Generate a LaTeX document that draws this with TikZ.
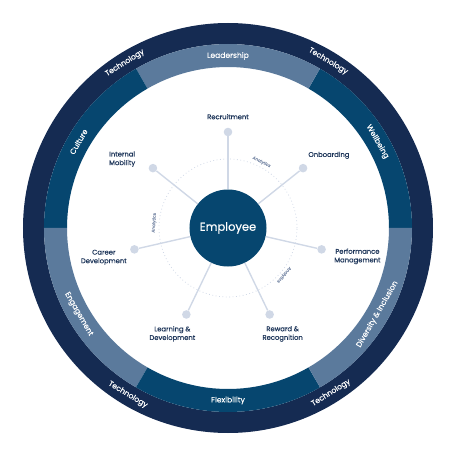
\documentclass[tikz,border=0pt]{standalone}
\usepackage{fontspec}
\setmainfont{Poppins}[FakeBold=0.35]
\usetikzlibrary{positioning}
\definecolor{ringnavy}{HTML}{152B52}
\definecolor{segdark}{HTML}{06466F}
\definecolor{seglight}{HTML}{5B7A9C}
\definecolor{spokegrey}{HTML}{D0D8E6}
\definecolor{labelnavy}{HTML}{1D3559}
\definecolor{analyticsgrey}{HTML}{8392AD}

\begin{document}
\begin{tikzpicture}[
        x=1pt, y=1pt,
        employee/.style={circle, fill=segdark, text=white, minimum size=77pt, inner sep=0pt, font=\fontsize{11.5}{13}\selectfont},
        spot/.style={circle, fill=spokegrey, minimum size=8.6pt, inner sep=0pt},
        topic/.style={align=center, text=labelnavy, inner sep=1pt, font=\fontsize{6.8}{8.6}\selectfont},
        ringtext/.style={text=white, inner sep=0pt, font=\fontsize{7.6}{9}\selectfont},
        analytics/.style={text=analyticsgrey, inner sep=0pt, font=\fontsize{4.3}{5}\selectfont},
        spoke/.style={draw=spokegrey, line width=1.4pt},
    ]
    \useasboundingbox (-228,-227) rectangle (227,228);

    % outer ring and the six segments
    \fill[ringnavy, even odd rule] (0,0) circle[radius=205pt] (0,0) circle[radius=184pt];
    \fill[segdark]  (0:184pt)    arc[start angle=0,    end angle=60,   radius=184pt] -- (60:161pt)   arc[start angle=60,   end angle=0,    radius=161pt] -- cycle;
    \fill[seglight] (60:184pt)   arc[start angle=60,   end angle=120,  radius=184pt] -- (120:161pt)  arc[start angle=120,  end angle=60,   radius=161pt] -- cycle;
    \fill[segdark]  (120:184pt)  arc[start angle=120,  end angle=180,  radius=184pt] -- (180:161pt)  arc[start angle=180,  end angle=120,  radius=161pt] -- cycle;
    \fill[seglight] (180:184pt)  arc[start angle=180,  end angle=240,  radius=184pt] -- (240:161pt)  arc[start angle=240,  end angle=180,  radius=161pt] -- cycle;
    \fill[segdark]  (240:184pt)  arc[start angle=240,  end angle=300,  radius=184pt] -- (300:161pt)  arc[start angle=300,  end angle=240,  radius=161pt] -- cycle;
    \fill[seglight] (300:184pt)  arc[start angle=300,  end angle=360,  radius=184pt] -- (360:161pt)  arc[start angle=360,  end angle=300,  radius=161pt] -- cycle;

    \node[ringtext]              (Lead)  at (90:172pt)    {Leadership};
    \node[ringtext, rotate=-60]  (Well)  at (30:172.5pt)  {Wellbeing};
    \node[ringtext, rotate=60]   (Div)   at (-30:172.5pt) {Diversity \& Inclusion};
    \node[ringtext]              (Flex)  at (-90:172.5pt) {Flexibility};
    \node[ringtext, rotate=-60]  (Eng)   at (210:172.5pt) {Engagement};
    \node[ringtext, rotate=60]   (Cult)  at (150:172.5pt) {Culture};

    \node[ringtext, rotate=32]   (T1)    at (122:194.5pt) {Technology};
    \node[ringtext, rotate=-31]  (T2)    at (59:194.5pt)  {Technology};
    \node[ringtext, rotate=32]   (T3)    at (302:194.5pt) {Technology};
    \node[ringtext, rotate=-31]  (T4)    at (239:194.5pt) {Technology};

    % dotted analytics circle
    \draw[spokegrey, line width=0.8pt, dash pattern=on 0.8pt off 2.6pt] (0,0) circle[radius=69pt];
    \node[analytics, rotate=-27]  (A1) at (63:74pt)   {Analytics};
    \node[analytics, rotate=86]   (A2) at (176:74pt)  {Analytics};
    \node[analytics, rotate=-130] (A3) at (-40:73pt)  {Analytics};

    % hub and spokes
    \node[employee]  (emp)  at (0,0)  {Employee};

    \node[spot]      (D1)   at (90:96pt)      {};
    \node[spot]      (D2)   at (38.57:96pt)   {};
    \node[spot]      (D3)   at (-12.86:96pt)  {};
    \node[spot]      (D4)   at (-64.29:96pt)  {};
    \node[spot]      (D5)   at (-115.71:96pt) {};
    \node[spot]      (D6)   at (-167.14:96pt) {};
    \node[spot]      (D7)   at (141.43:96pt)  {};

    \draw[spoke] (emp) -- (D1);
    \draw[spoke] (emp) -- (D2);
    \draw[spoke] (emp) -- (D3);
    \draw[spoke] (emp) -- (D4);
    \draw[spoke] (emp) -- (D5);
    \draw[spoke] (emp) -- (D6);
    \draw[spoke] (emp) -- (D7);

    \node[topic]  (Rec)   [above=7pt of D1]                  {Recruitment};
    \node[topic]  (Onb)   [above right=5pt and 1pt of D2]    {Onboarding};
    \node[topic]  (Perf)  [right=7pt of D3, yshift=-7pt]     {Performance\\Management};
    \node[topic]  (Rew)   [below=6pt of D4, xshift=13pt]     {Reward \&\\Recognition};
    \node[topic]  (Learn) [below=6pt of D5, xshift=-14pt]    {Learning \&\\Development};
    \node[topic]  (Car)   [left=2pt of D6, yshift=-8pt]      {Career\\Development};
    \node[topic]  (Mob)   [left=12pt of D7, yshift=9pt]      {Internal\\Mobility};
\end{tikzpicture}
\end{document}
